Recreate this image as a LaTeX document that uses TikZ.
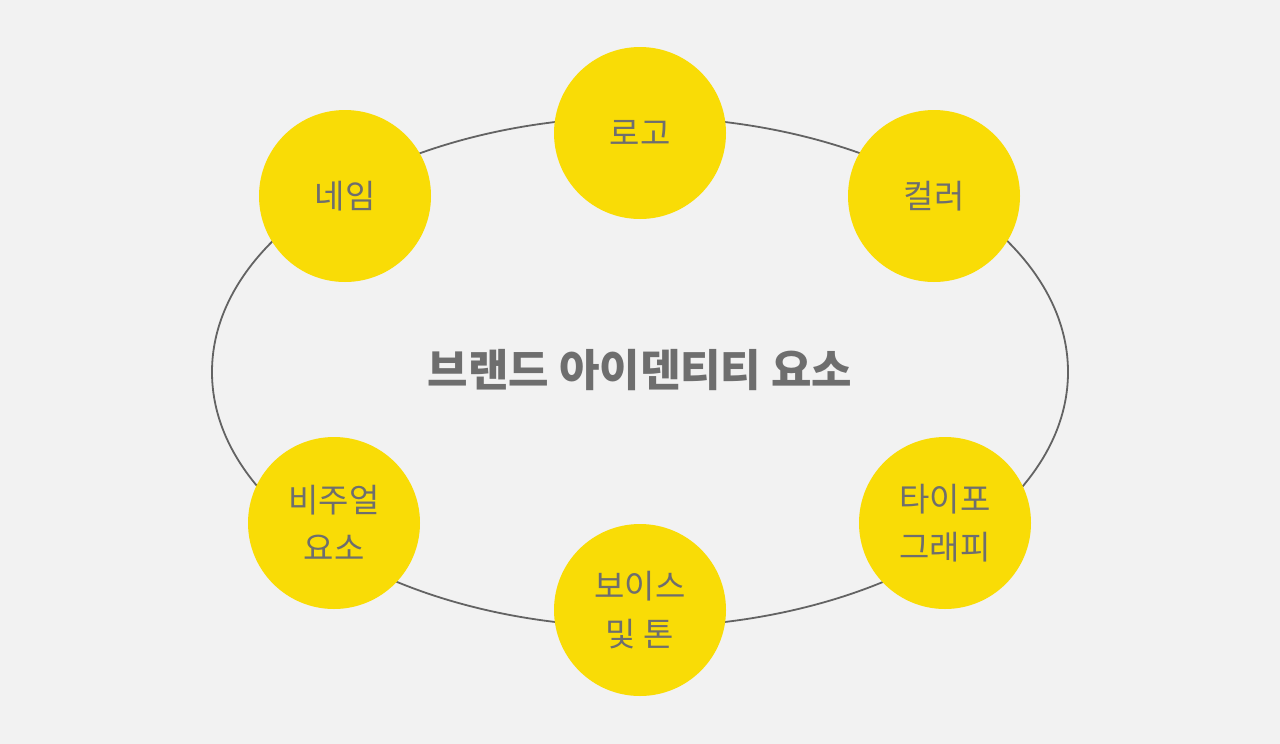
\documentclass[tikz,border=0pt]{standalone}
\usepackage{fontspec}
\newfontfamily\cjk{Noto Sans CJK KR}
\definecolor{bg}{HTML}{F2F2F2}
\definecolor{yel}{HTML}{F9DC06}
\definecolor{tx}{HTML}{6E6E6E}
\begin{document}
\begin{tikzpicture}[x=1pt,y=-1pt,
  elem/.style={circle,fill=yel,minimum size=172pt,inner sep=0pt,text=tx,font=\cjk\fontsize{33}{48}\selectfont,align=center}]
\fill[bg] (0,0) rectangle (1280,744);
\useasboundingbox (0,0) rectangle (1280,744);
\draw[color=tx!90!black,line width=1.8pt] (640,372) ellipse [x radius=428,y radius=255];
\node[elem] (logo) at (640,133) {로고};
\node[elem] (name) at (345,196) {네임};
\node[elem] (color) at (934,196) {컬러};
\node[elem] (visual) at (334,523) {비주얼\\요소};
\node[elem] (voice) at (640,610) {보이스\\및 톤};
\node[elem] (typo) at (945,523) {타이포\\그래피};
\node[text=tx,font=\cjk\bfseries\fontsize{44}{52}\selectfont] (title) at (640,370) {브랜드 아이덴티티 요소};
\end{tikzpicture}
\end{document}
